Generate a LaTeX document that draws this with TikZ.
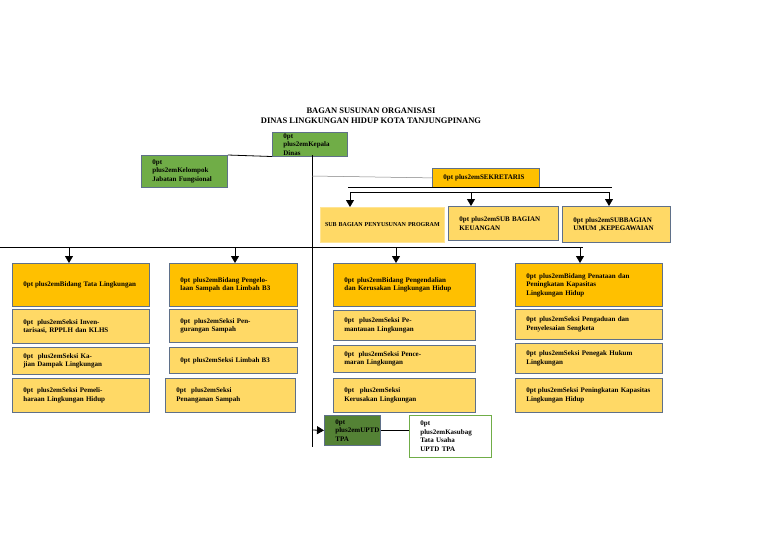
\documentclass[tikz,border=0pt]{standalone}
\usepackage{fontspec}
\setmainfont{Liberation Serif}
\usetikzlibrary{arrows.meta}
\definecolor{bid}{HTML}{FFC000}
\definecolor{sek}{HTML}{FFD966}
\definecolor{bord}{HTML}{5F7089}
\definecolor{gr}{HTML}{70AD47}
\definecolor{dgr}{HTML}{548235}
\tikzset{
 bx/.style={draw=bord,line width=0.8pt,align=center,font=\bfseries\fontsize{7}{8.5}\selectfont\hyphenpenalty=10000,inner sep=1pt},
 ar/.style={-{Triangle[length=7pt,width=8pt]},line width=0.8pt},
 ln/.style={line width=0.8pt},
}
\newcommand{\bxat}[7]{\node[bx,fill=#5,anchor=north west,minimum width=#3pt-#1pt,minimum height=#4pt-#2pt,text width=#3pt-#1pt-22pt] (#6) at (#1pt,-#2pt) {#7};}
\begin{document}
\begin{tikzpicture}[x=1pt,y=-1pt]
\useasboundingbox (0,0) rectangle (768,543);
\node[font=\bfseries\fontsize{8.5}{10}\selectfont,align=center] (title) at (371,116) {BAGAN SUSUNAN ORGANISASI\\DINAS LINGKUNGAN HIDUP KOTA TANJUNGPINANG};
\bxat{272}{132}{347}{155}{gr}{kd}{Kepala Dinas}
\bxat{141}{155}{227}{187}{gr}{kjf}{Kelompok Jabatan Fungsional}
\bxat{432}{168}{539}{187}{bid}{sekr}{SEKRETARIS}
\node[bx,draw=sek!70,fill=sek,anchor=north west,minimum width=124pt,minimum height=35pt,text width=120pt,font=\bfseries\fontsize{6}{7.5}\selectfont] (sb1) at (320pt,-207pt) {SUB BAGIAN PENYUSUNAN PROGRAM};
\bxat{448}{206}{558}{240}{sek}{sb2}{SUB BAGIAN\\KEUANGAN}
\bxat{562}{206}{670}{242}{sek}{sb3}{SUBBAGIAN\\UMUM ,KEPEGAWAIAN}
% columns
\bxat{12}{263}{149}{306}{bid}{b1}{Bidang Tata Lingkungan}
\bxat{12}{309}{149}{343}{sek}{s11}{Seksi Inventarisasi, RPPLH dan KLHS}
\bxat{12}{347}{149}{374}{sek}{s12}{Seksi Kajian Dampak Lingkungan}
\bxat{12}{378}{149}{412}{sek}{s13}{Seksi Pemeliharaan Lingkungan Hidup}
\bxat{169}{263}{297}{306}{bid}{b2}{Bidang Pengelolaan Sampah dan Limbah B3}
\bxat{169}{309}{297}{342}{sek}{s21}{Seksi Pengurangan Sampah}
\bxat{169}{347}{297}{373}{sek}{s22}{Seksi Limbah B3}
\bxat{165}{378}{295}{412}{sek}{s23}{Seksi Penanganan Sampah}
\bxat{333}{263}{475}{306}{bid}{b3}{Bidang Pengendalian dan Kerusakan Lingkungan Hidup}
\bxat{333}{310}{475}{340}{sek}{s31}{Seksi Pemantauan Lingkungan}
\bxat{333}{345}{475}{372}{sek}{s32}{Seksi Pencemaran Lingkungan}
\bxat{333}{378}{475}{412}{sek}{s33}{Seksi Kerusakan Lingkungan}
\bxat{515}{263}{662}{306}{bid}{b4}{Bidang Penataan dan\\Peningkatan Kapasitas\\Lingkungan Hidup}
\bxat{515}{309}{662}{339}{sek}{s41}{Seksi Pengaduan dan\\Penyelesaian Sengketa}
\bxat{515}{343}{662}{373}{sek}{s42}{Seksi Penegak Hukum\\Lingkungan}
\bxat{515}{378}{662}{412}{sek}{s43}{Seksi Peningkatan Kapasitas\\Lingkungan Hidup}
\bxat{324}{415}{380}{445}{dgr}{uptd}{UPTD\\TPA}
\node[bx,draw=gr,fill=white,anchor=north west,minimum width=82pt,minimum height=42pt,text width=60pt] (kas) at (409pt,-415pt) {Kasubag Tata Usaha UPTD TPA};
% connectors
\coordinate (mtop) at (312,155);
\coordinate (mbot) at (312,447);
\draw[ln] (mtop) -- (mbot);
\draw[ln] (kjf.north east) -- (kd.south west);
\draw[line width=0.5pt,gray] (312,176) -- (sekr.west);
\draw[line width=0.5pt] (348,187) -- (612,187);
\draw[ln] (350,192) -- (610,192);
\draw[ar] (350,192) -- (sb1.north -| 350,0);
\draw[ar] (471,192) -- (sb2.north -| 471,0);
\draw[ar] (609,192) -- (sb3.north -| 609,0);
\draw[ln] (0,247) -- (583,247);
\draw[ar] (69,247) -- (b1.north -| 69,0);
\draw[ar] (235,247) -- (b2.north -| 235,0);
\draw[ar] (396,247) -- (b3.north -| 396,0);
\draw[ar] (580,247) -- (b4.north -| 580,0);
\draw[ar] (312,430) -- (uptd.west);
\draw[ln] (uptd.east) -- (kas.west |- uptd.east);
\end{tikzpicture}
\end{document}
